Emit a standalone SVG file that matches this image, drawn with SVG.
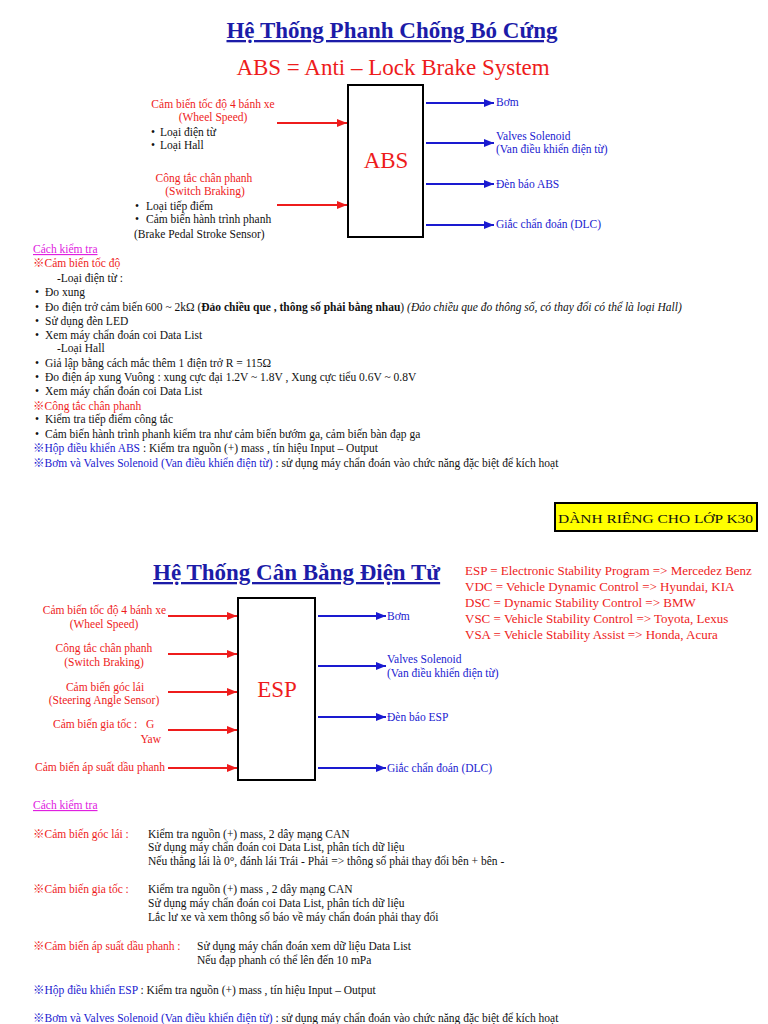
<svg xmlns="http://www.w3.org/2000/svg" width="768" height="1024" viewBox="0 0 768 1024">
<style>
text{font-family:"Liberation Serif","Times New Roman","Noto Sans CJK JP",serif;font-size:11.5px;fill:#111}
.r{fill:#ee1c1c}
.b{fill:#1a1ad0}
.m{fill:#e020e0}
.title{font-size:23px;font-weight:bold;fill:#1c1ca8;text-decoration:underline}
.big{font-size:23px}
.c{text-anchor:middle}
.e{text-anchor:end}
.box{fill:#fff;stroke:#000;stroke-width:2}
.lr{stroke:#ee1c1c;stroke-width:2;fill:none}
.lb{stroke:#1a1ad0;stroke-width:2;fill:none}
.list{font-size:13px}
</style>
<defs>
<marker id="ar" viewBox="0 0 10 8" refX="10" refY="4" markerWidth="10" markerHeight="8" markerUnits="userSpaceOnUse" orient="auto"><path d="M0,0 L10,4 L0,8 z" fill="#ee1c1c"/></marker>
<marker id="ab" viewBox="0 0 10 8" refX="10" refY="4" markerWidth="10" markerHeight="8" markerUnits="userSpaceOnUse" orient="auto"><path d="M0,0 L10,4 L0,8 z" fill="#1a1ad0"/></marker>
</defs>
<rect width="768" height="1024" fill="#fff"/>

<!-- ABS section -->
<text class="title c" x="392" y="38">Hệ Thống Phanh Chống Bó Cứng</text>
<text class="big r c" x="393" y="75">ABS = Anti – Lock Brake System</text>

<g id="abs">
<rect class="box" x="348" y="85" width="75" height="152"/>
<text class="big r c" x="386" y="168">ABS</text>
</g>

<g id="abs-in-wheel">
<text class="r c" x="213" y="108">Cảm biến tốc độ 4 bánh xe</text>
<text class="r c" x="213" y="121">(Wheel Speed)</text>
<text x="151" y="136">•</text><text x="160" y="136">Loại điện từ</text>
<text x="151" y="149">•</text><text x="160" y="149">Loại Hall</text>
</g>
<g id="abs-in-switch">
<text class="r c" x="204" y="182">Công tắc chân phanh</text>
<text class="r c" x="205" y="195">(Switch Braking)</text>
<text x="135" y="210">•</text><text x="146" y="210">Loại tiếp điểm</text>
<text x="135" y="223">•</text><text x="146" y="223">Cảm biến hành trình phanh</text>
<text x="134" y="238">(Brake Pedal Stroke Sensor)</text>
</g>
<g id="abs-out">
<text class="b" x="496" y="106">Bơm</text>
<text class="b" x="496" y="140">Valves Solenoid</text>
<text class="b" x="496" y="153">(Van điều khiển điện từ)</text>
<text class="b" x="496" y="188">Đèn báo ABS</text>
<text class="b" x="496" y="228">Giắc chẩn đoán (DLC)</text>
</g>

<g id="abs-check">
<text class="m" x="33" y="253" text-decoration="underline">Cách kiểm tra</text>
<text class="r" x="33" y="267">※Cảm biến tốc độ</text>
<text x="57" y="282">-Loại điện từ :</text>
<text x="35" y="296">•</text><text x="45" y="296">Đo xung</text>
<text x="35" y="311">•</text><text x="45" y="311">Đo điện trở cảm biến 600 ~ 2kΩ (<tspan font-weight="bold">Đảo chiều que , thông số phải bằng nhau</tspan>) <tspan font-style="italic">(Đảo chiều que đo thông số, có thay đổi có thể là loại Hall)</tspan></text>
<text x="35" y="325">•</text><text x="45" y="325">Sử dụng đèn LED</text>
<text x="35" y="339">•</text><text x="45" y="339">Xem máy chẩn đoán coi Data List</text>
<text x="57" y="352">-Loại Hall</text>
<text x="35" y="367">•</text><text x="45" y="367">Giả lập bằng cách mắc thêm 1 điện trở R = 115Ω</text>
<text x="35" y="381">•</text><text x="45" y="381">Đo điện áp xung Vuông : xung cực đại 1.2V ~ 1.8V , Xung cực tiểu 0.6V ~ 0.8V</text>
<text x="35" y="395">•</text><text x="45" y="395">Xem máy chẩn đoán coi Data List</text>
<text class="r" x="33" y="410">※Công tắc chân phanh</text>
<text x="35" y="423">•</text><text x="45" y="423">Kiểm tra tiếp điểm công tắc</text>
<text x="35" y="438">•</text><text x="45" y="438">Cảm biến hành trình phanh kiểm tra như cảm biến bướm ga, cảm biến bàn đạp ga</text>
<text x="33" y="452"><tspan class="b">※Hộp điều khiển ABS</tspan> : Kiểm tra nguồn (+) mass , tín hiệu Input – Output</text>
<text x="33" y="467"><tspan class="b">※Bơm và Valves Solenoid (Van điều khiển điện từ)</tspan> : sử dụng máy chẩn đoán vào chức năng đặc biệt để kích hoạt</text>
</g>

<g id="k30">
<rect x="555" y="503" width="202" height="28" fill="#ffff00" stroke="#000" stroke-width="2"/>
<text x="558" y="523" font-size="17" textLength="195" lengthAdjust="spacingAndGlyphs">DÀNH RIÊNG CHO LỚP K30</text>
</g>

<!-- ESP section -->
<text class="title" x="153" y="580">Hệ Thống Cân Bằng Điện Tử</text>

<g id="esp-list">
<text class="r list" x="465" y="575">ESP = Electronic Stability Program =&gt; Mercedez Benz</text>
<text class="r list" x="465" y="591">VDC = Vehicle Dynamic Control =&gt; Hyundai, KIA</text>
<text class="r list" x="465" y="607">DSC = Dynamic Stability Control =&gt; BMW</text>
<text class="r list" x="465" y="623">VSC = Vehicle Stability Control =&gt; Toyota, Lexus</text>
<text class="r list" x="465" y="639">VSA = Vehicle Stability Assist =&gt; Honda, Acura</text>
</g>

<g id="esp">
<rect class="box" x="238" y="598" width="77" height="182"/>
<text class="big r c" x="277" y="697">ESP</text>
</g>

<g id="esp-in">
<text class="r e" x="166" y="614">Cảm biến tốc độ 4 bánh xe</text>
<text class="r c" x="104" y="628">(Wheel Speed)</text>
<text class="r c" x="104" y="652">Công tắc chân phanh</text>
<text class="r c" x="104" y="666">(Switch Braking)</text>
<text class="r c" x="105" y="691">Cảm biến góc lái</text>
<text class="r c" x="104" y="704">(Steering Angle Sensor)</text>
<text class="r" x="53" y="728" xml:space="preserve">Cảm biến gia tốc :   G</text>
<text class="r e" x="161" y="743">Yaw</text>
<text class="r e" x="165" y="771">Cảm biến áp suất dầu phanh</text>
</g>
<g id="esp-out">
<text class="b" x="387" y="620">Bơm</text>
<text class="b" x="387" y="663">Valves Solenoid</text>
<text class="b" x="387" y="677">(Van điều khiển điện từ)</text>
<text class="b" x="387" y="721">Đèn báo ESP</text>
<text class="b" x="387" y="772">Giắc chẩn đoán (DLC)</text>
</g>

<g id="esp-check">
<text class="m" x="33" y="809" text-decoration="underline">Cách kiểm tra</text>
<text class="r" x="33" y="838">※Cảm biến góc lái :</text>
<text x="148" y="838">Kiểm tra nguồn (+) mass, 2 dây mạng CAN</text>
<text x="148" y="851">Sử dụng máy chẩn đoán coi Data List, phân tích dữ liệu</text>
<text x="148" y="865">Nếu thẳng lái là 0°, đánh lái Trái - Phải =&gt; thông số phải thay đổi bên + bên -</text>
<text class="r" x="33" y="893">※Cảm biến gia tốc :</text>
<text x="148" y="893">Kiểm tra nguồn (+) mass , 2 dây mạng CAN</text>
<text x="148" y="907">Sử dụng máy chẩn đoán coi Data List, phân tích dữ liệu</text>
<text x="148" y="921">Lắc lư xe và xem thông số báo về máy chẩn đoán phải thay đổi</text>
<text class="r" x="33" y="950">※Cảm biến áp suất dầu phanh :</text>
<text x="197" y="950">Sử dụng máy chẩn đoán xem dữ liệu Data List</text>
<text x="197" y="964">Nếu đạp phanh có thể lên đến 10 mPa</text>
<text x="33" y="994"><tspan class="b">※Hộp điều khiển ESP</tspan> : Kiểm tra nguồn (+) mass , tín hiệu Input – Output</text>
<text x="33" y="1022"><tspan class="b">※Bơm và Valves Solenoid (Van điều khiển điện từ)</tspan> : sử dụng máy chẩn đoán vào chức năng đặc biệt để kích hoạt</text>
</g>

<g id="connectors">
<line class="lr" x1="277" y1="123" x2="347" y2="123" marker-end="url(#ar)"/>
<line class="lr" x1="277" y1="205" x2="347" y2="205" marker-end="url(#ar)"/>
<line class="lb" x1="426" y1="103" x2="494" y2="103" marker-end="url(#ab)"/>
<line class="lb" x1="426" y1="143" x2="494" y2="143" marker-end="url(#ab)"/>
<line class="lb" x1="426" y1="184" x2="494" y2="184" marker-end="url(#ab)"/>
<line class="lb" x1="426" y1="225" x2="494" y2="225" marker-end="url(#ab)"/>
<line class="lr" x1="168" y1="616" x2="237" y2="616" marker-end="url(#ar)"/>
<line class="lr" x1="168" y1="654" x2="237" y2="654" marker-end="url(#ar)"/>
<line class="lr" x1="168" y1="692" x2="237" y2="692" marker-end="url(#ar)"/>
<line class="lr" x1="168" y1="730" x2="237" y2="730" marker-end="url(#ar)"/>
<line class="lr" x1="168" y1="768" x2="237" y2="768" marker-end="url(#ar)"/>
<line class="lb" x1="318" y1="616" x2="386" y2="616" marker-end="url(#ab)"/>
<line class="lb" x1="318" y1="666" x2="386" y2="666" marker-end="url(#ab)"/>
<line class="lb" x1="318" y1="717" x2="386" y2="717" marker-end="url(#ab)"/>
<line class="lb" x1="318" y1="768" x2="386" y2="768" marker-end="url(#ab)"/>
</g>
</svg>
